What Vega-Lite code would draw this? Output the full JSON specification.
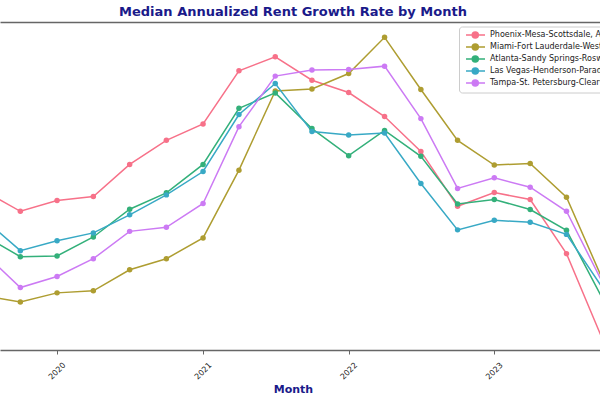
{
  "$schema": "https://vega.github.io/schema/vega-lite/v6.json",
  "width": 600,
  "height": 328,
  "autosize": {"type": "none"},
  "padding": {"left": 0, "right": 0, "top": 22, "bottom": 50},
  "background": "white",
  "title": {
    "text": "Median Annualized Rent Growth Rate by Month",
    "font": "DejaVu Sans",
    "fontSize": 13,
    "fontWeight": "bold",
    "color": "#1a1a8a",
    "anchor": "middle",
    "dx": -7,
    "offset": 3
  },
  "config": {
    "view": {"stroke": null},
    "font": "DejaVu Sans"
  },
  "data": {
    "values": [
      {"metro": "Phoenix-Mesa-Scottsdale, AZ", "month": "2019-07-01", "growth": 9.67},
      {"metro": "Phoenix-Mesa-Scottsdale, AZ", "month": "2019-10-01", "growth": 8.15},
      {"metro": "Phoenix-Mesa-Scottsdale, AZ", "month": "2020-01-01", "growth": 8.94},
      {"metro": "Phoenix-Mesa-Scottsdale, AZ", "month": "2020-04-01", "growth": 9.23},
      {"metro": "Phoenix-Mesa-Scottsdale, AZ", "month": "2020-07-01", "growth": 11.58},
      {"metro": "Phoenix-Mesa-Scottsdale, AZ", "month": "2020-10-01", "growth": 13.34},
      {"metro": "Phoenix-Mesa-Scottsdale, AZ", "month": "2021-01-01", "growth": 14.54},
      {"metro": "Phoenix-Mesa-Scottsdale, AZ", "month": "2021-04-01", "growth": 18.43},
      {"metro": "Phoenix-Mesa-Scottsdale, AZ", "month": "2021-07-01", "growth": 19.45},
      {"metro": "Phoenix-Mesa-Scottsdale, AZ", "month": "2021-10-01", "growth": 17.74},
      {"metro": "Phoenix-Mesa-Scottsdale, AZ", "month": "2022-01-01", "growth": 16.84},
      {"metro": "Phoenix-Mesa-Scottsdale, AZ", "month": "2022-04-01", "growth": 15.08},
      {"metro": "Phoenix-Mesa-Scottsdale, AZ", "month": "2022-07-01", "growth": 12.53},
      {"metro": "Phoenix-Mesa-Scottsdale, AZ", "month": "2022-10-01", "growth": 8.52},
      {"metro": "Phoenix-Mesa-Scottsdale, AZ", "month": "2023-01-01", "growth": 9.52},
      {"metro": "Phoenix-Mesa-Scottsdale, AZ", "month": "2023-04-01", "growth": 9.01},
      {"metro": "Phoenix-Mesa-Scottsdale, AZ", "month": "2023-07-01", "growth": 5.05},
      {"metro": "Phoenix-Mesa-Scottsdale, AZ", "month": "2023-10-01", "growth": -1.34},
      {"metro": "Miami-Fort Lauderdale-West Palm Beach, FL", "month": "2019-07-01", "growth": 1.96},
      {"metro": "Miami-Fort Lauderdale-West Palm Beach, FL", "month": "2019-10-01", "growth": 1.52},
      {"metro": "Miami-Fort Lauderdale-West Palm Beach, FL", "month": "2020-01-01", "growth": 2.18},
      {"metro": "Miami-Fort Lauderdale-West Palm Beach, FL", "month": "2020-04-01", "growth": 2.33},
      {"metro": "Miami-Fort Lauderdale-West Palm Beach, FL", "month": "2020-07-01", "growth": 3.87},
      {"metro": "Miami-Fort Lauderdale-West Palm Beach, FL", "month": "2020-10-01", "growth": 4.68},
      {"metro": "Miami-Fort Lauderdale-West Palm Beach, FL", "month": "2021-01-01", "growth": 6.2},
      {"metro": "Miami-Fort Lauderdale-West Palm Beach, FL", "month": "2021-04-01", "growth": 11.16},
      {"metro": "Miami-Fort Lauderdale-West Palm Beach, FL", "month": "2021-07-01", "growth": 16.96},
      {"metro": "Miami-Fort Lauderdale-West Palm Beach, FL", "month": "2021-10-01", "growth": 17.1},
      {"metro": "Miami-Fort Lauderdale-West Palm Beach, FL", "month": "2022-01-01", "growth": 18.23},
      {"metro": "Miami-Fort Lauderdale-West Palm Beach, FL", "month": "2022-04-01", "growth": 20.88},
      {"metro": "Miami-Fort Lauderdale-West Palm Beach, FL", "month": "2022-07-01", "growth": 17.06},
      {"metro": "Miami-Fort Lauderdale-West Palm Beach, FL", "month": "2022-10-01", "growth": 13.34},
      {"metro": "Miami-Fort Lauderdale-West Palm Beach, FL", "month": "2023-01-01", "growth": 11.53},
      {"metro": "Miami-Fort Lauderdale-West Palm Beach, FL", "month": "2023-04-01", "growth": 11.65},
      {"metro": "Miami-Fort Lauderdale-West Palm Beach, FL", "month": "2023-07-01", "growth": 9.18},
      {"metro": "Miami-Fort Lauderdale-West Palm Beach, FL", "month": "2023-10-01", "growth": 3.06},
      {"metro": "Atlanta-Sandy Springs-Roswell, GA", "month": "2019-07-01", "growth": 6.37},
      {"metro": "Atlanta-Sandy Springs-Roswell, GA", "month": "2019-10-01", "growth": 4.83},
      {"metro": "Atlanta-Sandy Springs-Roswell, GA", "month": "2020-01-01", "growth": 4.88},
      {"metro": "Atlanta-Sandy Springs-Roswell, GA", "month": "2020-04-01", "growth": 6.27},
      {"metro": "Atlanta-Sandy Springs-Roswell, GA", "month": "2020-07-01", "growth": 8.3},
      {"metro": "Atlanta-Sandy Springs-Roswell, GA", "month": "2020-10-01", "growth": 9.5},
      {"metro": "Atlanta-Sandy Springs-Roswell, GA", "month": "2021-01-01", "growth": 11.58},
      {"metro": "Atlanta-Sandy Springs-Roswell, GA", "month": "2021-04-01", "growth": 15.69},
      {"metro": "Atlanta-Sandy Springs-Roswell, GA", "month": "2021-07-01", "growth": 16.81},
      {"metro": "Atlanta-Sandy Springs-Roswell, GA", "month": "2021-10-01", "growth": 14.2},
      {"metro": "Atlanta-Sandy Springs-Roswell, GA", "month": "2022-01-01", "growth": 12.22},
      {"metro": "Atlanta-Sandy Springs-Roswell, GA", "month": "2022-04-01", "growth": 14.07},
      {"metro": "Atlanta-Sandy Springs-Roswell, GA", "month": "2022-07-01", "growth": 12.17},
      {"metro": "Atlanta-Sandy Springs-Roswell, GA", "month": "2022-10-01", "growth": 8.69},
      {"metro": "Atlanta-Sandy Springs-Roswell, GA", "month": "2023-01-01", "growth": 9.01},
      {"metro": "Atlanta-Sandy Springs-Roswell, GA", "month": "2023-04-01", "growth": 8.28},
      {"metro": "Atlanta-Sandy Springs-Roswell, GA", "month": "2023-07-01", "growth": 6.76},
      {"metro": "Atlanta-Sandy Springs-Roswell, GA", "month": "2023-10-01", "growth": 1.67},
      {"metro": "Las Vegas-Henderson-Paradise, NV", "month": "2019-07-01", "growth": 7.61},
      {"metro": "Las Vegas-Henderson-Paradise, NV", "month": "2019-10-01", "growth": 5.27},
      {"metro": "Las Vegas-Henderson-Paradise, NV", "month": "2020-01-01", "growth": 6.0},
      {"metro": "Las Vegas-Henderson-Paradise, NV", "month": "2020-04-01", "growth": 6.57},
      {"metro": "Las Vegas-Henderson-Paradise, NV", "month": "2020-07-01", "growth": 7.89},
      {"metro": "Las Vegas-Henderson-Paradise, NV", "month": "2020-10-01", "growth": 9.35},
      {"metro": "Las Vegas-Henderson-Paradise, NV", "month": "2021-01-01", "growth": 11.06},
      {"metro": "Las Vegas-Henderson-Paradise, NV", "month": "2021-04-01", "growth": 15.23},
      {"metro": "Las Vegas-Henderson-Paradise, NV", "month": "2021-07-01", "growth": 17.5},
      {"metro": "Las Vegas-Henderson-Paradise, NV", "month": "2021-10-01", "growth": 13.98},
      {"metro": "Las Vegas-Henderson-Paradise, NV", "month": "2022-01-01", "growth": 13.73},
      {"metro": "Las Vegas-Henderson-Paradise, NV", "month": "2022-04-01", "growth": 13.88},
      {"metro": "Las Vegas-Henderson-Paradise, NV", "month": "2022-07-01", "growth": 10.18},
      {"metro": "Las Vegas-Henderson-Paradise, NV", "month": "2022-10-01", "growth": 6.79},
      {"metro": "Las Vegas-Henderson-Paradise, NV", "month": "2023-01-01", "growth": 7.49},
      {"metro": "Las Vegas-Henderson-Paradise, NV", "month": "2023-04-01", "growth": 7.34},
      {"metro": "Las Vegas-Henderson-Paradise, NV", "month": "2023-07-01", "growth": 6.46},
      {"metro": "Las Vegas-Henderson-Paradise, NV", "month": "2023-10-01", "growth": 2.48},
      {"metro": "Tampa-St. Petersburg-Clearwater, FL", "month": "2019-07-01", "growth": 5.12},
      {"metro": "Tampa-St. Petersburg-Clearwater, FL", "month": "2019-10-01", "growth": 2.57},
      {"metro": "Tampa-St. Petersburg-Clearwater, FL", "month": "2020-01-01", "growth": 3.38},
      {"metro": "Tampa-St. Petersburg-Clearwater, FL", "month": "2020-04-01", "growth": 4.68},
      {"metro": "Tampa-St. Petersburg-Clearwater, FL", "month": "2020-07-01", "growth": 6.68},
      {"metro": "Tampa-St. Petersburg-Clearwater, FL", "month": "2020-10-01", "growth": 6.98},
      {"metro": "Tampa-St. Petersburg-Clearwater, FL", "month": "2021-01-01", "growth": 8.72},
      {"metro": "Tampa-St. Petersburg-Clearwater, FL", "month": "2021-04-01", "growth": 14.34},
      {"metro": "Tampa-St. Petersburg-Clearwater, FL", "month": "2021-07-01", "growth": 18.04},
      {"metro": "Tampa-St. Petersburg-Clearwater, FL", "month": "2021-10-01", "growth": 18.48},
      {"metro": "Tampa-St. Petersburg-Clearwater, FL", "month": "2022-01-01", "growth": 18.53},
      {"metro": "Tampa-St. Petersburg-Clearwater, FL", "month": "2022-04-01", "growth": 18.77},
      {"metro": "Tampa-St. Petersburg-Clearwater, FL", "month": "2022-07-01", "growth": 14.93},
      {"metro": "Tampa-St. Petersburg-Clearwater, FL", "month": "2022-10-01", "growth": 9.82},
      {"metro": "Tampa-St. Petersburg-Clearwater, FL", "month": "2023-01-01", "growth": 10.6},
      {"metro": "Tampa-St. Petersburg-Clearwater, FL", "month": "2023-04-01", "growth": 9.91},
      {"metro": "Tampa-St. Petersburg-Clearwater, FL", "month": "2023-07-01", "growth": 8.15},
      {"metro": "Tampa-St. Petersburg-Clearwater, FL", "month": "2023-10-01", "growth": 2.84}
    ]
  },
  "encoding": {
    "y": {
      "field": "growth",
      "type": "quantitative",
      "scale": {"domain": [-2, 22], "nice": false, "zero": false},
      "axis": null
    },
    "color": {
      "field": "metro",
      "type": "nominal",
      "scale": {
        "domain": ["Phoenix-Mesa-Scottsdale, AZ", "Miami-Fort Lauderdale-West Palm Beach, FL", "Atlanta-Sandy Springs-Roswell, GA", "Las Vegas-Henderson-Paradise, NV", "Tampa-St. Petersburg-Clearwater, FL"],
        "range": ["#f77189", "#ae9d31", "#33b07a", "#38a9c5", "#cc7af4"]
      },
      "legend": {
        "title": null,
        "orient": "none",
        "legendX": 459,
        "legendY": 4.5,
        "padding": 3,
        "rowPadding": -2.3,
        "fillColor": "rgba(255,255,255,0.85)",
        "strokeColor": "#cccccc",
        "cornerRadius": 3,
        "symbolType": "M-0.33,0H3.89M1.06,0A0.67,0.67,0,1,1,2.4,0A0.67,0.67,0,1,1,1.06,0Z",
        "symbolSize": 81,
        "symbolStrokeWidth": 1.5,
        "labelOffset": 17,
        "labelFont": "DejaVu Sans",
        "labelFontSize": 8,
        "labelColor": "#222222",
        "labelLimit": 500,
        "encode": {
          "symbols": {
            "update": {
              "fill": {"scale": "color", "field": "value"},
              "stroke": {"scale": "color", "field": "value"},
              "opacity": {"value": 1}
            }
          }
        }
      }
    }
  },
  "layer": [
    {
      "mark": {"type": "line", "strokeWidth": 1.5, "clip": true},
      "encoding": {
        "x": {
          "field": "month",
          "type": "temporal",
          "scale": {"type": "utc", "domain": [{"year": 2019, "month": 8, "date": 11, "utc": true}, {"year": 2023, "month": 9, "date": 23, "utc": true}]},
          "axis": {
            "orient": "bottom",
            "values": [{"year": 2020, "month": 1, "date": 1, "utc": true}, {"year": 2021, "month": 1, "date": 1, "utc": true}, {"year": 2022, "month": 1, "date": 1, "utc": true}, {"year": 2023, "month": 1, "date": 1, "utc": true}],
            "format": "%Y",
            "formatType": "utc",
            "grid": false,
            "domainColor": "#666666",
            "domainWidth": 1.5,
            "tickColor": "#666666",
            "tickSize": 4,
            "tickWidth": 1,
            "labelAngle": -45,
            "labelAlign": "center",
            "labelBaseline": "middle",
            "labelPadding": 17,
            "labelFont": "DejaVu Sans",
            "labelFontSize": 8,
            "labelColor": "#222222",
            "title": "Month",
            "titleFont": "DejaVu Sans",
            "titleFontSize": 11,
            "titleFontWeight": "bold",
            "titleColor": "#1a1a8a",
            "titleX": 293,
            "titleY": 42,
            "titleBaseline": "alphabetic",
            "titleAnchor": null
          }
        }
      }
    },
    {
      "mark": {"type": "point", "filled": true, "size": 30, "opacity": 1, "clip": true},
      "encoding": {
        "x": {
          "field": "month",
          "type": "temporal",
          "axis": {
            "orient": "top",
            "labels": false,
            "ticks": false,
            "grid": false,
            "title": null,
            "domainColor": "#666666",
            "domainWidth": 1.5
          }
        }
      }
    }
  ],
  "resolve": {"axis": {"x": "independent"}}
}
